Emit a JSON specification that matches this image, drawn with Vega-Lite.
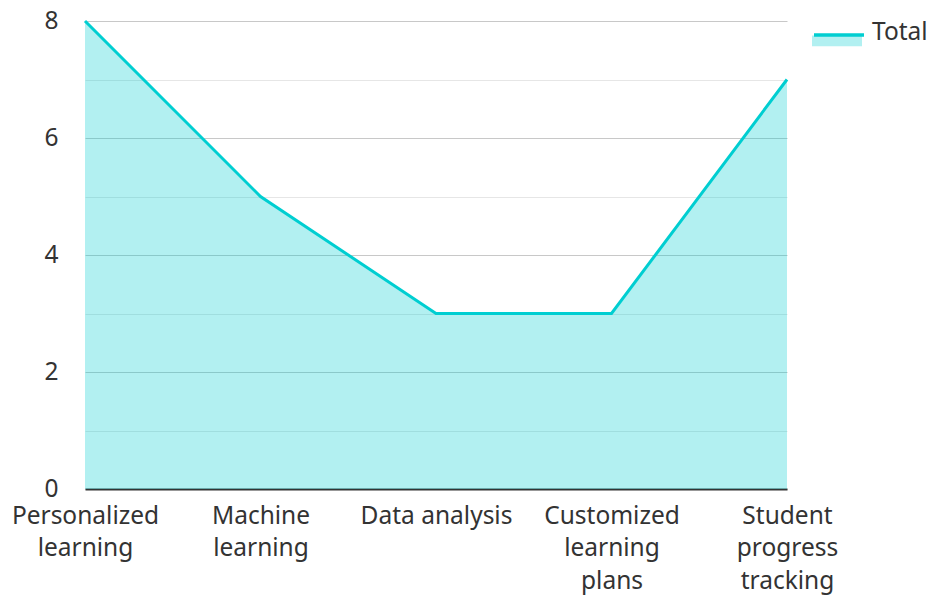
{
  "$schema": "https://vega.github.io/schema/vega-lite/v6.json",
  "width": 702,
  "height": 468,
  "autosize": {"type": "none"},
  "padding": {"left": 85, "top": 21, "right": 142, "bottom": 106},
  "background": "white",
  "config": {"font": "Noto Sans", "view": {"stroke": null}},
  "data": {
    "values": [
      {"category": "Personalized learning", "value": 8, "series": "Total"},
      {"category": "Machine learning", "value": 5, "series": "Total"},
      {"category": "Data analysis", "value": 3, "series": "Total"},
      {"category": "Customized learning plans", "value": 3, "series": "Total"},
      {"category": "Student progress tracking", "value": 7, "series": "Total"}
    ]
  },
  "encoding": {
    "x": {
      "field": "category",
      "type": "nominal",
      "sort": null,
      "scale": {"type": "point", "padding": 0},
      "axis": {
        "title": null,
        "labelAngle": 0,
        "labelFont": "Noto Sans",
        "labelFontSize": 24.5,
        "labelColor": "#333333",
        "labelPadding": 15,
        "labelBaseline": "top",
        "labelLineHeight": 32.5,
        "labelOverlap": false,
        "labelExpr": "datum.value == 'Data analysis' ? datum.value : split(datum.value, ' ')",
        "ticks": false,
        "grid": false,
        "domainColor": "#333333",
        "domainWidth": 2
      }
    },
    "y": {
      "field": "value",
      "type": "quantitative",
      "scale": {"domain": [0, 8], "nice": false},
      "axis": {
        "title": null,
        "values": [0, 1, 2, 3, 4, 5, 6, 7, 8],
        "labelExpr": "datum.value % 2 == 0 ? datum.value : ''",
        "labelFont": "Noto Sans",
        "labelFontSize": 24.5,
        "labelColor": "#333333",
        "labelPadding": 27,
        "labelFlush": false,
        "ticks": false,
        "domain": false,
        "gridColor": {"condition": {"test": "datum.value % 2 == 0", "value": "#c8c8c8"}, "value": "#e6e6e6"},
        "gridWidth": 1
      }
    }
  },
  "layer": [
    {
      "mark": {"type": "area", "fillOpacity": 0.3},
      "encoding": {
        "fill": {
          "field": "series",
          "type": "nominal",
          "scale": {"range": ["#00CED1"]},
          "legend": {
            "title": null,
            "orient": "none",
            "legendX": 727,
            "legendY": -13,
            "symbolType": "M-1,0.1 H1 V0.53 H-1 Z",
            "symbolSize": 2500,
            "symbolStrokeWidth": 0,
            "symbolOpacity": 0.3,
            "labelFont": "Noto Sans",
            "labelFontSize": 24.5,
            "labelColor": "#333333",
            "labelOffset": 10
          }
        }
      }
    },
    {
      "mark": {"type": "line", "strokeWidth": 3},
      "encoding": {
        "stroke": {
          "field": "series",
          "type": "nominal",
          "scale": {"domain": ["Total"], "range": ["#00CED1"]},
          "legend": {
            "title": null,
            "orient": "none",
            "legendX": 727,
            "legendY": -13,
            "symbolType": "M-1,0 H1",
            "symbolSize": 2500,
            "symbolStrokeWidth": 3.5,
            "symbolFillColor": "transparent",
            "labelFont": "Noto Sans",
            "labelFontSize": 24.5,
            "labelOpacity": 0,
            "labelOffset": 10
          }
        }
      }
    }
  ]
}
